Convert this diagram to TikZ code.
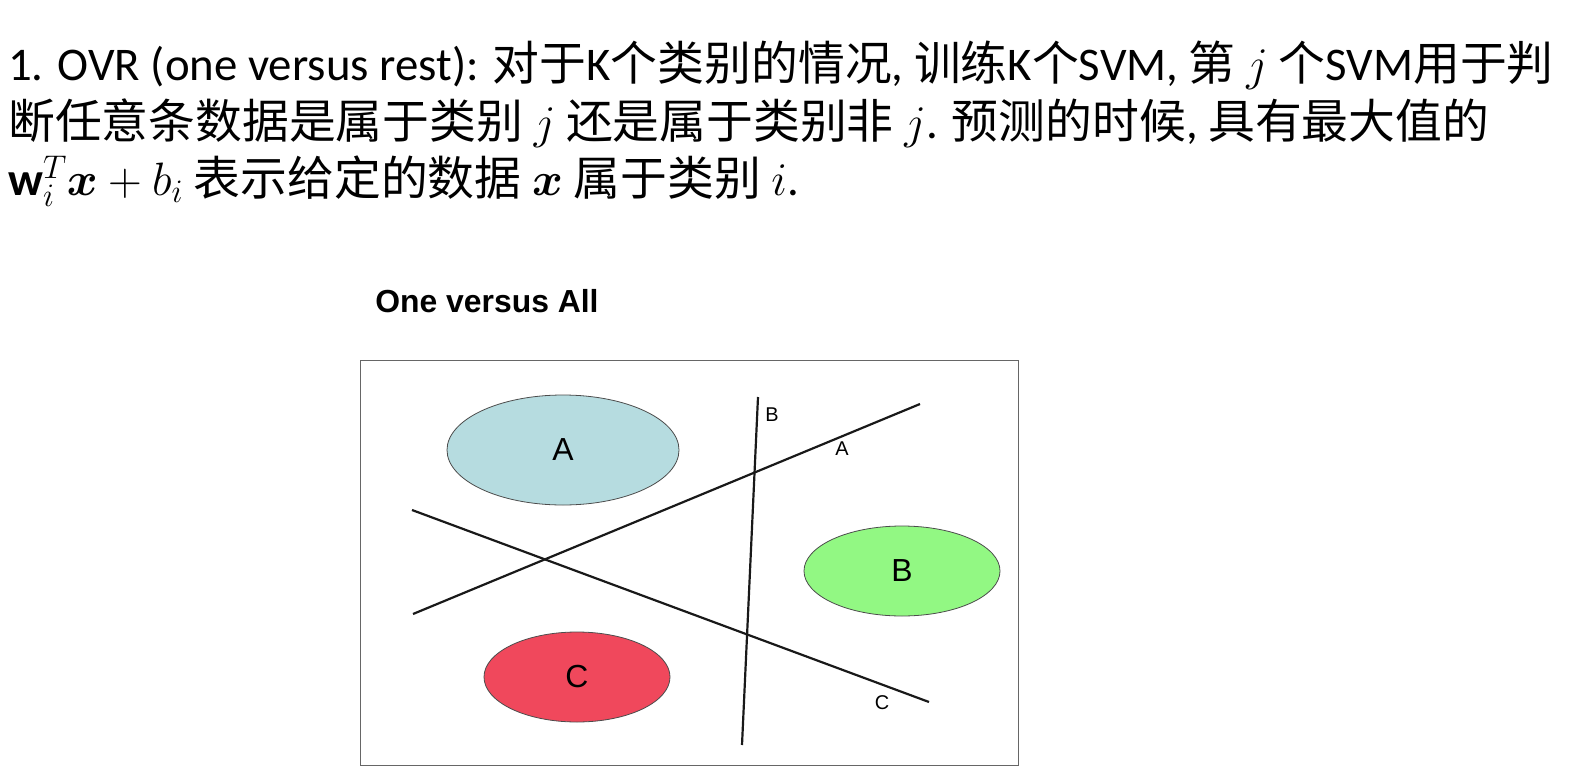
\RequirePackage{fix-cm}
\documentclass[tikz,border=0pt]{standalone}
\usepackage{amsmath}
\usepackage{bm}
\usepackage{fontspec}
\setmainfont{Carlito}
\newfontfamily\cjk{Noto Sans CJK SC}
\newfontfamily\arial{Liberation Sans}
\begin{document}
\begin{tikzpicture}[x=1bp,y=-1bp,
  line/.style={text=black,font=\fontsize{47}{54}\selectfont,anchor=base west,inner sep=0},
  ell/.style={draw=black!70,line width=0.8pt},
  sep/.style={draw=black!90,line width=2.2pt},
  lab/.style={font=\arial\fontsize{20}{24}\selectfont},
  big/.style={font=\arial\fontsize{32}{36}\selectfont},
  ]
\useasboundingbox (0,0) rectangle (1589,780);
\node[line] (l1) at (8,80) {1. OVR (one versus rest): {\cjk 对于}K{\cjk 个类别的情况}, {\cjk 训练}K{\cjk 个}SVM, {\cjk 第} $j$ {\cjk 个}SVM{\cjk 用于判}};
\node[line] (l2) at (8,138) {{\cjk 断任意条数据是属于类别} $j$ {\cjk 还是属于类别非} $j$. {\cjk 预测的时候}, {\cjk 具有最大值的}};
\node[line] (l3) at (8,195) {$\mathbf{w}_i^T\bm{x}+b_i$ {\cjk 表示给定的数据} $\bm{x}$ {\cjk 属于类别} $i$.};
\node[font=\arial\bfseries\fontsize{32}{36}\selectfont] (t) at (487,301) {One versus All};
\draw[draw=black!60,line width=1pt] (360,360) rectangle (1018,765);
\coordinate (A) at (563,450);
\coordinate (B) at (902,571);
\coordinate (C) at (577,677);
\draw[ell,fill={rgb,255:red,182;green,220;blue,224}] (A) ellipse (116 and 55);
\draw[ell,fill={rgb,255:red,146;green,248;blue,131}] (B) ellipse (98 and 45);
\draw[ell,fill={rgb,255:red,240;green,72;blue,92}] (C) ellipse (93 and 45);
\node[big] (tA) at (A) {A};
\node[big] (tB) at (B) {B};
\node[big] (tC) at (C) {C};
\coordinate (a1) at (413,614); \coordinate (a2) at (920,404);
\coordinate (c1) at (412,510); \coordinate (c2) at (929,702);
\coordinate (b1) at (758,397); \coordinate (b2) at (742,745);
\draw[sep] (a1) -- (a2);
\draw[sep] (c1) -- (c2);
\draw[sep] (b1) -- (b2);
\node[lab] (lb) at (772,415) {B};
\node[lab] (la) at (842,449) {A};
\node[lab] (lc) at (882,703) {C};
\end{tikzpicture}
\end{document}
